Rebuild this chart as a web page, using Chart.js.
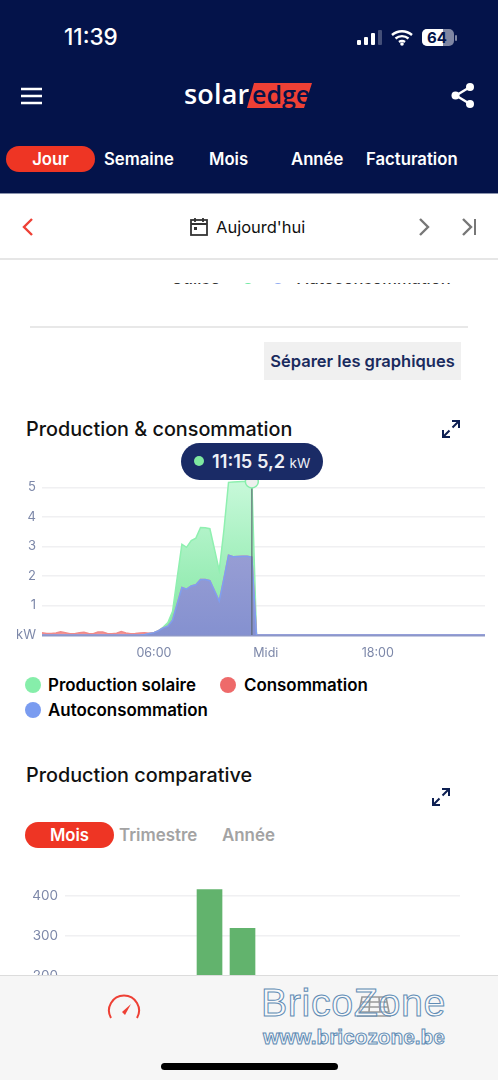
<!DOCTYPE html>
<html lang="fr">
<head>
<meta charset="utf-8">
<title>Production & consommation</title>
<script src="https://cdn.jsdelivr.net/npm/chart.js@4"></script>
<style>
html, body { margin: 0; padding: 0; background: #fff; }
body { position: relative; width: 498px; height: 1080px; overflow: hidden; font-family: Inter, "Noto Sans", sans-serif; color: #111; }
.abs { position: absolute; white-space: nowrap; }
#header { left: 0; top: 0; width: 498px; height: 193px; background: #04134a; border-bottom: 1px solid #8a93ad; }
.tab { color: #fff; font-weight: 600; font-size: 16.7px; top: 150px; line-height: 18px; }
.pill { background: #ee3524; border-radius: 13px; color: #fff; font-weight: 600; font-size: 16.7px; text-align: center; height: 26px; line-height: 26px; width: 89px; }
.title { font-size: 19.8px; font-weight: 500; line-height: 24px; color: #111; }
.sub { color: #a3a3a3; font-weight: 600; font-size: 16.9px; top: 826px; line-height: 18px; }
.legend { font-weight: 600; font-size: 16.9px; line-height: 20px; color: #000; }
.dot { width: 16px; height: 16px; border-radius: 50%; }
canvas { position: absolute; display: block; }
#tooltip { left: 181px; top: 443px; width: 142px; height: 37px; border-radius: 18.5px; background: #1a2b66; color: #eef0f6; z-index: 3; }
#tabbar { left: 0; top: 975px; width: 498px; height: 105px; background: #f6f6f6; border-top: 1px solid #dcdcdc; z-index: 4; }
.wm { color: rgba(255,255,255,.35); -webkit-text-stroke: 1px #5f8cb5; z-index: 5; font-family: "Liberation Sans", Inter, sans-serif; }
</style>
</head>
<body>

<canvas id="prodChart" width="498" height="195" style="left:0;top:470px;width:498px;height:195px"></canvas>
<canvas id="compChart" width="498" height="180" style="left:0;top:880px;width:498px;height:180px"></canvas>

<!-- partly scrolled away legend of the chart above -->
<div class="abs" style="left:0;top:283px;width:498px;height:5px;overflow:hidden">
  <div class="abs" style="left:171px;top:-15px;font-size:16.5px;line-height:20px;color:#333;font-weight:500">Utilisé</div>
  <div class="abs dot" style="left:242px;top:-11px;width:12px;height:12px;background:#6fe8a0"></div>
  <div class="abs dot" style="left:272px;top:-11px;width:12px;height:12px;background:#8fa9f0"></div>
  <div class="abs" style="left:297px;top:-15px;font-size:16.5px;line-height:20px;color:#333;font-weight:500">Autoconsommation</div>
</div>

<div class="abs" id="header"></div>
<div class="abs" style="left:64px;top:24px;color:#fff;font-size:22.5px;line-height:26px;font-weight:500">11:39</div>
<svg class="abs" style="left:356px;top:28px" width="102" height="20" viewBox="0 0 102 20">
  <rect x="1" y="12" width="4" height="5" rx="1" fill="#fff"/><rect x="8" y="9" width="4" height="8" rx="1" fill="#fff"/>
  <rect x="15" y="5" width="4" height="12" rx="1" fill="#fff"/><rect x="22" y="2" width="4" height="15" rx="1" fill="#444f78"/>
  <path d="M36 7 a15 15 0 0 1 20 0 M39.5 10.5 a10 10 0 0 1 13 0 M43 14 a5 5 0 0 1 6 0" fill="none" stroke="#fff" stroke-width="2.4"/>
  <circle cx="46" cy="16" r="1.8" fill="#fff"/>
  <rect x="66" y="1" width="32" height="17" rx="5" fill="#7f86a3"/>
  <path d="M71 1 h16 v17 h-16 a5 5 0 0 1 -5 -5 v-7 a5 5 0 0 1 5 -5z" fill="#fff"/>
  <rect x="99" y="7" width="2" height="6" rx="1" fill="#7f86a3"/>
</svg>
<div class="abs" style="left:424px;top:28px;width:26px;text-align:center;color:#04134a;font-size:15px;font-weight:700;line-height:19px">64</div>

<svg class="abs" style="left:20px;top:87px" width="24" height="18" viewBox="0 0 24 18"><path d="M1 2 H22 M1 9 H22 M1 16 H22" stroke="#fff" stroke-width="2.4"/></svg>
<div class="abs" style="left:184px;top:78px;color:#fff;font-size:27px;font-weight:600;line-height:32px;letter-spacing:.2px;font-family:'Open Sans',Inter,sans-serif">solar</div>
<svg class="abs" style="left:247px;top:82px" width="66" height="27" viewBox="0 0 66 27"><path d="M7 1 H65 L57 26 H0 Z" fill="#ee4035"/></svg>
<div class="abs" style="left:252px;top:78px;color:#04134a;font-size:25px;font-weight:600;line-height:32px;font-family:'Open Sans',Inter,sans-serif">edge</div>
<svg class="abs" style="left:450px;top:82px" width="26" height="27" viewBox="0 0 26 27">
  <path d="M20 5 L6 13.5 L20 22" fill="none" stroke="#fff" stroke-width="2.4"/>
  <circle cx="20" cy="5" r="4" fill="#fff"/><circle cx="5.5" cy="13.5" r="4" fill="#fff"/><circle cx="20" cy="22" r="4" fill="#fff"/>
</svg>

<div class="abs pill" style="left:6px;top:146px">Jour</div>
<div class="abs tab" style="left:104px">Semaine</div>
<div class="abs tab" style="left:209px">Mois</div>
<div class="abs tab" style="left:291px">Année</div>
<div class="abs tab" style="left:366px">Facturation</div>

<div class="abs" style="left:0;top:194px;width:498px;height:64px;background:#fff;border-bottom:2px solid #e6e6e6"></div>
<svg class="abs" style="left:20px;top:217px" width="16" height="20" viewBox="0 0 16 20"><path d="M12 2 L4 10 L12 18" fill="none" stroke="#ee4035" stroke-width="2.4"/></svg>
<svg class="abs" style="left:189px;top:217px" width="20" height="20" viewBox="0 0 20 20">
  <rect x="2" y="3" width="16" height="15" fill="none" stroke="#333" stroke-width="1.8"/><path d="M2 7 H18 M6 1 V5 M14 1 V5" stroke="#333" stroke-width="1.8"/><rect x="5" y="10" width="3" height="3" fill="#333"/>
</svg>
<div class="abs" style="left:216px;top:217px;font-size:16.5px;line-height:20px;color:#111">Aujourd'hui</div>
<svg class="abs" style="left:416px;top:217px" width="16" height="20" viewBox="0 0 16 20"><path d="M4 2 L12 10 L4 18" fill="none" stroke="#777" stroke-width="2.4"/></svg>
<svg class="abs" style="left:459px;top:217px" width="20" height="20" viewBox="0 0 20 20"><path d="M4 2 L12 10 L4 18" fill="none" stroke="#777" stroke-width="2.4"/><path d="M16 2 V18" stroke="#777" stroke-width="2"/></svg>

<div class="abs" style="left:30px;top:326px;width:438px;height:2px;background:#e8e8e8"></div>
<div class="abs" style="left:264px;top:342px;width:197px;height:38px;line-height:38px;background:#f0f0f0;text-align:center;color:#1a2b5e;font-size:16.5px;font-weight:600">Séparer les graphiques</div>

<div class="abs title" style="left:26px;top:417px">Production &amp; consommation</div>
<svg class="abs" style="left:441px;top:419px" width="20" height="20" viewBox="0 0 20 20"><path d="M11 2 H18 V9 M18 2 L11.5 8.5 M9 18 H2 V11 M2 18 L8.5 11.5" fill="none" stroke="#0d1f52" stroke-width="2"/></svg>

<div class="abs" id="tooltip">
  <div class="abs" style="left:13px;top:13px;width:10px;height:10px;border-radius:50%;background:#7fe8a0"></div>
  <div class="abs" id="tipText" style="left:31px;top:8px;font-size:18.2px;line-height:20px;font-weight:600"></div>
</div>

<div id="legendBox"></div>

<div class="abs title" style="left:26px;top:763px">Production comparative</div>
<svg class="abs" style="left:431px;top:787px" width="20" height="20" viewBox="0 0 20 20"><path d="M11 2 H18 V9 M18 2 L11.5 8.5 M9 18 H2 V11 M2 18 L8.5 11.5" fill="none" stroke="#0d1f52" stroke-width="2"/></svg>
<div class="abs pill" style="left:25px;top:822px">Mois</div>
<div class="abs sub" style="left:119px">Trimestre</div>
<div class="abs sub" style="left:222px">Année</div>

<div class="abs" id="tabbar"></div>
<svg class="abs" style="left:107px;top:993px;z-index:5" width="34" height="28" viewBox="0 0 34 28">
  <path d="M4 25 A15 15 0 1 1 30 25" fill="none" stroke="#ee4035" stroke-width="2"/><path d="M24 11 L15 19 L18 22 Z" fill="#ee4035"/>
</svg>
<svg class="abs" style="left:356px;top:996px;z-index:5" width="36" height="22" viewBox="0 0 36 22">
  <path d="M6 1 H30 L33 16 H3 Z M5 6 H31 M4 11 H32 M14 1 L13 16 M23 1 L24 16 M1 20 H35" fill="none" stroke="#999" stroke-width="1.6"/>
</svg>
<div class="abs wm" style="left:261px;top:979px;font-size:39.4px;line-height:46px;letter-spacing:.6px">BricoZone</div>
<div class="abs wm" style="left:263px;top:1025px;font-size:20.8px;line-height:24px;font-weight:700">www.bricozone.be</div>
<div class="abs" style="left:161px;top:1063px;width:177px;height:7px;border-radius:4px;background:#000;z-index:5"></div>

<script>
// quarter hours of the day
var times = [
    "00:00", "00:15", "00:30", "00:45", "01:00", "01:15", "01:30", "01:45",
    "02:00", "02:15", "02:30", "02:45", "03:00", "03:15", "03:30", "03:45",
    "04:00", "04:15", "04:30", "04:45", "05:00", "05:15", "05:30", "05:45",
    "06:00", "06:15", "06:30", "06:45", "07:00", "07:15", "07:30", "07:45",
    "08:00", "08:15", "08:30", "08:45", "09:00", "09:15", "09:30", "09:45",
    "10:00", "10:15", "10:30", "10:45", "11:00", "11:15", "11:30", "11:45",
    "12:00", "12:15", "12:30", "12:45", "13:00", "13:15", "13:30", "13:45",
    "14:00", "14:15", "14:30", "14:45", "15:00", "15:15", "15:30", "15:45",
    "16:00", "16:15", "16:30", "16:45", "17:00", "17:15", "17:30", "17:45",
    "18:00", "18:15", "18:30", "18:45", "19:00", "19:15", "19:30", "19:45",
    "20:00", "20:15", "20:30", "20:45", "21:00", "21:15", "21:30", "21:45",
    "22:00", "22:15", "22:30", "22:45", "23:00", "23:15", "23:30", "23:45"
];
var xTickLabels = { "06:00": "06:00", "12:00": "Midi", "18:00": "18:00" };

var production = [
    0, 0, 0, 0, 0, 0, 0, 0, 0, 0, 0, 0, 0, 0, 0, 0, 0, 0, 0, 0, 0, 0, 0.02, 0.05,
    0.08, 0.15, 0.27, 0.42, 0.8, 1.95, 3.07, 2.97, 3.2, 3.28, 3.64, 3.63, 3.6, 2.9, 2.19, 3.54,
    5.17, 5.18, 5.19, 5.2, 5.2, 5.2, 0, 0,
    0, 0, 0, 0, 0, 0, 0, 0, 0, 0, 0, 0, 0, 0, 0, 0, 0, 0, 0, 0, 0, 0, 0, 0,
    0, 0, 0, 0, 0, 0, 0, 0, 0, 0, 0, 0, 0, 0, 0, 0, 0, 0, 0, 0, 0, 0, 0, 0
];
var consumption = [
    0.08, 0.05, 0.05, 0.07, 0.11, 0.08, 0.04, 0.04, 0.08, 0.09, 0.05, 0.04, 0.1, 0.1, 0.05, 0.04,
    0.06, 0.12, 0.07, 0.04, 0.05, 0.07, 0.08, 0.06,
    0.08, 0.15, 0.24, 0.3, 0.5, 1.06, 1.61, 1.55, 1.66, 1.7, 1.88, 1.88, 1.84, 1.5, 1.15, 1.9,
    2.7, 2.65, 2.66, 2.67, 2.67, 2.64, 0, 0,
    0, 0, 0, 0, 0, 0, 0, 0, 0, 0, 0, 0, 0, 0, 0, 0, 0, 0, 0, 0, 0, 0, 0, 0,
    0, 0, 0, 0, 0, 0, 0, 0, 0, 0, 0, 0, 0, 0, 0, 0, 0, 0, 0, 0, 0, 0, 0, 0
];
var selfConsumption = [
    0, 0, 0, 0, 0, 0, 0, 0, 0, 0, 0, 0, 0, 0, 0, 0, 0, 0, 0, 0, 0, 0, 0.02, 0.05,
    0.08, 0.15, 0.24, 0.3, 0.5, 1.06, 1.61, 1.55, 1.66, 1.7, 1.88, 1.88, 1.84, 1.5, 1.15, 1.9,
    2.7, 2.65, 2.66, 2.67, 2.67, 2.64, 0, 0,
    0, 0, 0, 0, 0, 0, 0, 0, 0, 0, 0, 0, 0, 0, 0, 0, 0, 0, 0, 0, 0, 0, 0, 0,
    0, 0, 0, 0, 0, 0, 0, 0, 0, 0, 0, 0, 0, 0, 0, 0, 0, 0, 0, 0, 0, 0, 0, 0
];
var seriesNames = ["Production solaire", "Consommation", "Autoconsommation"];
var seriesColors = ["#86eeaa", "#ee6a6a", "#7a9cf0"];

var selectedTime = "11:15";
var selectedIndex = times.indexOf(selectedTime);

// comparative chart
var months = [0, 1, 2, 3, 4, 5, 6, 7, 8, 9, 10, 11];
var monthlyProduction = [null, null, null, null, 415, 318, null, null, null, null, null, null];

var tickColor = "#7d88a9";
var gridColor = "#f0f0f2";

document.getElementById("tipText").innerHTML = selectedTime + " " +
    String(production[selectedIndex]).replace(".", ",") +
    ' <span style="font-size:13.5px;font-weight:400">kW</span>';

// html legend, two rows like the app
var legendPos = [[25, 675, 48], [220, 675, 244], [25, 700, 48]];
var legendHtml = "";
for (var l = 0; l < seriesNames.length; l++) {
    legendHtml += '<div class="abs dot" style="left:' + legendPos[l][0] + 'px;top:' + (legendPos[l][1] + 2) + 'px;background:' + seriesColors[l] + '"></div>';
    legendHtml += '<div class="abs legend" style="left:' + legendPos[l][2] + 'px;top:' + legendPos[l][1] + 'px">' + seriesNames[l] + '</div>';
}
document.getElementById("legendBox").innerHTML = legendHtml;

function areaGradient(top, bottom) {
    return function (context) {
        var area = context.chart.chartArea;
        if (!area) return bottom;
        var g = context.chart.ctx.createLinearGradient(0, area.top, 0, area.bottom);
        g.addColorStop(0, top);
        g.addColorStop(1, bottom);
        return g;
    };
}

// chart.js reserves half a label above the top tick, we want the plot to fill the box
function noLabelPadding(axis) {
    axis.paddingTop = 0;
    axis.paddingBottom = 0;
}

// vertical marker under the selected point
var markerLine = {
    id: "markerLine",
    afterDatasetsDraw: function (chart) {
        var x = chart.scales.x.getPixelForValue(selectedIndex);
        var y = chart.scales.y.getPixelForValue(production[selectedIndex]);
        var c = chart.ctx;
        c.save();
        c.strokeStyle = "rgba(90,100,110,0.75)";
        c.lineWidth = 1.5;
        c.beginPath();
        c.moveTo(x, y);
        c.lineTo(x, chart.scales.y.getPixelForValue(0));
        c.stroke();
        c.beginPath();
        c.arc(x, y, 6.5, 0, Math.PI * 2);
        c.fillStyle = "#eef0ee";
        c.fill();
        c.strokeStyle = "#86eeaa";
        c.lineWidth = 1.5;
        c.stroke();
        c.restore();
    }
};

var prodChart = new Chart(document.getElementById("prodChart"), {
    type: "line",
    data: {
        labels: times,
        datasets: [{
            label: seriesNames[2],
            data: selfConsumption,
            order: 1,
            borderColor: "#7f9ff0",
            borderWidth: 1.5,
            pointRadius: 0,
            tension: 0,
            fill: "origin",
            backgroundColor: areaGradient("rgba(165,170,220,0.95)", "rgba(128,145,212,0.95)")
        }, {
            label: seriesNames[1],
            data: consumption,
            order: 2,
            borderColor: "#f08a8a",
            borderWidth: 1.5,
            pointRadius: 0,
            tension: 0,
            fill: "origin",
            backgroundColor: "rgba(240,120,120,0.8)"
        }, {
            label: seriesNames[0],
            data: production,
            order: 3,
            borderColor: "#8ff0b0",
            borderWidth: 1.5,
            pointRadius: 0,
            tension: 0,
            fill: "origin",
            backgroundColor: areaGradient("#c8f9da", "#80e6a2")
        }]
    },
    options: {
        responsive: false,
        animation: false,
        layout: { padding: { right: 13, top: 10, bottom: 0 } },
        plugins: { legend: { display: false }, tooltip: { enabled: false } },
        scales: {
            x: {
                grid: { display: false },
                border: { display: false },
                afterFit: function (axis) { axis.height = 30; },
                ticks: {
                    autoSkip: false,
                    maxRotation: 0,
                    padding: 3,
                    color: tickColor,
                    font: { family: "Inter", size: 12.5 },
                    callback: function (value) { return xTickLabels[times[value]] || ""; }
                }
            },
            y: {
                min: 0,
                max: 5.25,
                afterFit: function (axis) { axis.width = 42; noLabelPadding(axis); },
                grid: {
                    color: function (c) { return c.tick.value === 0 ? "#8d97c8" : gridColor; },
                    lineWidth: function (c) { return c.tick.value === 0 ? 2.5 : 1.5; },
                    drawTicks: false
                },
                border: { display: false },
                ticks: {
                    stepSize: 1,
                    includeBounds: false,
                    padding: 6,
                    color: tickColor,
                    font: { family: "Inter", size: 13 },
                    callback: function (value) { return value === 0 ? "kW" : value; }
                }
            }
        }
    },
    plugins: [markerLine]
});

var compChart = new Chart(document.getElementById("compChart"), {
    type: "bar",
    data: {
        datasets: [{
            data: months.map(function (m, i) { return { x: m, y: monthlyProduction[i] }; }),
            backgroundColor: "#62b36d",
            barThickness: 25
        }]
    },
    options: {
        responsive: false,
        animation: false,
        layout: { padding: { right: 38, top: 0.5, bottom: 4.5 } },
        plugins: { legend: { display: false }, tooltip: { enabled: false } },
        scales: {
            x: {
                type: "linear",
                offset: false,
                display: false,
                min: -0.379,
                max: 11.59
            },
            y: {
                min: 0,
                max: 437.5,
                afterFit: function (axis) { axis.width = 65; noLabelPadding(axis); },
                grid: { color: gridColor, lineWidth: 1.5, drawTicks: false },
                border: { display: false },
                ticks: {
                    stepSize: 100,
                    includeBounds: false,
                    padding: 7,
                    color: tickColor,
                    font: { family: "Inter", size: 13.5 }
                }
            }
        }
    }
});
</script>
</body>
</html>
